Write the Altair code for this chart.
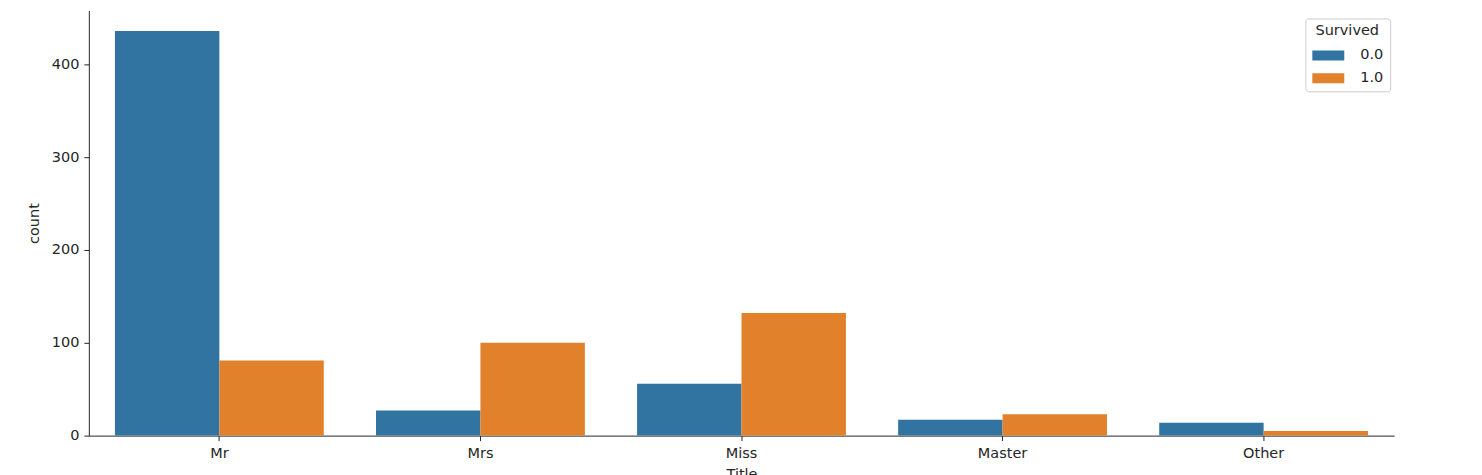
import altair as alt
import pandas as pd

titles = ["Mr", "Mrs", "Miss", "Master", "Other"]
survived_0 = [436, 27, 56, 17, 14]
survived_1 = [81, 100, 132, 23, 5]
groups = ["0.0", "1.0"]
colors = ["#3274a1", "#e1812c"]
y_ticks = [0, 100, 200, 300, 400]

rows = []
for t, a, b in zip(titles, survived_0, survived_1):
    rows.append({"Title": t, "Survived": groups[0], "count": a})
    rows.append({"Title": t, "Survived": groups[1], "count": b})
df = pd.DataFrame(rows)

FONT = "DejaVu Sans"
INK = "#262626"
FS = 14.5

chart = alt.Chart(df).mark_bar(strokeWidth=0).encode(
    x=alt.X("Title:N", sort=titles,
            scale=alt.Scale(paddingInner=0.2, paddingOuter=0.1),
            axis=alt.Axis(title="Title", labelAngle=0, ticks=True, tickSize=5,
                          labelPadding=6, titlePadding=7)),
    xOffset=alt.XOffset("Survived:N", sort=groups, scale=alt.Scale(paddingInner=0, paddingOuter=0)),
    y=alt.Y("count:Q", scale=alt.Scale(domain=[0, 458], nice=False),
            axis=alt.Axis(title="count", values=y_ticks, tickSize=5, labelPadding=5,
                          titlePadding=10)),
    color=alt.Color("Survived:N", sort=groups,
                    scale=alt.Scale(domain=groups, range=colors),
                    legend=alt.Legend(title="Survived", orient="none", legendX=1219, legendY=8,
                                      symbolType="M-1.6,-0.5L1.6,-0.5L1.6,0.5L-1.6,0.5Z",
                                      symbolSize=400, symbolStrokeWidth=0, symbolOffset=7,
                                      padding=6, strokeColor="#cccccc", fillColor="white",
                                      cornerRadius=3, titleAnchor="middle",
                                      titleFontWeight="normal", titleFontSize=FS, labelFontSize=FS,
                                      labelOffset=22, rowPadding=6, titlePadding=6.5,
                                      titleColor=INK, labelColor=INK)),
).properties(
    width=1308, height=426,
    autosize=alt.AutoSizeParams(type="none"),
    padding={"left": 81, "top": 2, "right": 80, "bottom": 60},
).configure_view(
    stroke=None
).configure_axis(
    grid=False, domainColor=INK, tickColor=INK, labelColor=INK, titleColor=INK,
    labelFont=FONT, titleFont=FONT, labelFontSize=FS, titleFontSize=FS,
    titleFontWeight="normal", domainWidth=1, tickWidth=1
).configure_legend(
    labelFont=FONT, titleFont=FONT
)

chart.save("out.html", embed_options={"renderer": "svg", "actions": False})
